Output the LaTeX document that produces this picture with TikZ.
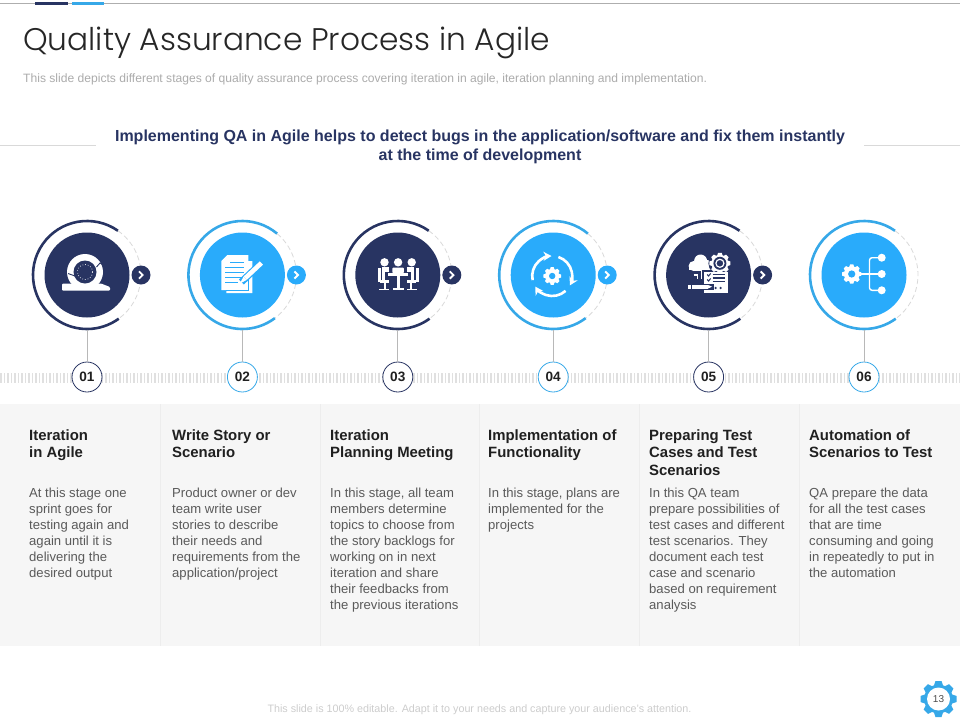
\documentclass[tikz,border=0pt]{standalone}
\usepackage{fontspec}
\setmainfont{Liberation Sans}
\newfontfamily\titlefont{Poppins Light}
\usepackage{xcolor}
\usetikzlibrary{arrows,arrows.meta,shapes,positioning}
\definecolor{qanavy}{RGB}{40,52,98}
\definecolor{qablue}{RGB}{41,171,251}
\definecolor{qaring}{RGB}{54,168,232}
\definecolor{qapanel}{RGB}{246,246,246}
\definecolor{qarule}{RGB}{217,217,217}
\definecolor{qatick}{RGB}{224,224,224}
\definecolor{qahead}{RGB}{32,32,32}
\definecolor{qabody}{RGB}{90,90,90}
\tikzstyle{corenavy} = [circle, minimum size=85pt, inner sep=0pt, outer sep=12pt, fill=qanavy]
\tikzstyle{coreblue} = [circle, minimum size=85pt, inner sep=0pt, outer sep=12pt, fill=qablue]
\tikzstyle{nextnavy} = [circle, minimum size=19pt, inner sep=0pt, fill=qanavy]
\tikzstyle{nextblue} = [circle, minimum size=19pt, inner sep=0pt, fill=qablue]
\tikzstyle{numnavy} = [circle, minimum size=30pt, inner sep=0pt, draw=qanavy, line width=0.8pt, fill=white, text=qahead, font=\fontsize{13.6}{16}\selectfont\bfseries]
\tikzstyle{numblue} = [numnavy, draw=qaring]
\tikzstyle{stem} = [line width=0.7pt, color=qarule!85!black]
\tikzstyle{chevronmark} = [white, line width=1.9pt]
\tikzstyle{headtext} = [anchor=north west, inner sep=0pt, align=left, text=qahead, font=\fontsize{14.9}{17.6}\selectfont\bfseries]
\tikzstyle{bodytext} = [anchor=north west, inner sep=0pt, align=left, text=qabody, font=\fontsize{13.1}{16}\selectfont]
\tikzstyle{panelrule} = [line width=0.8pt, color=black!7]
\tikzstyle{cyclearrow} = [white, line width=2.6pt, -{Stealth[length=8pt, width=9pt]}]
% ring round a stage: solid part, then the dashed part
\newcommand{\stagering}[4]{
  \draw[#2, line width=2.6pt] (#1.center) ++(#3:54pt) arc[start angle=#3, end angle=#4+360, radius=54pt];
  \draw[qarule, line width=0.8pt, dash pattern=on 5pt off 3pt] (#1.center) ++(#3:54pt) arc[start angle=#3, end angle=#4, radius=54pt];
}
\newcommand{\nextchevron}[1]{
  \draw[chevronmark] (#1.center) ++(-2,-3.6) -- ++(3.6,3.6) -- ++(-3.6,3.6);
}
% gear: at, outer radius, hole radius, colour, hole colour
\newcommand{\gearmark}[5]{
  \begin{scope}[shift={(#1)}]
    \fill[#4] (0,0) circle (#2*0.8pt);
    \foreach \a in {0,45,...,315}
      \fill[#4, rotate=\a] (-#2*0.27,-#2*0.7) -- (-#2*0.17,-#2) -- (#2*0.17,-#2) -- (#2*0.27,-#2*0.7) -- cycle;
    \fill[#5] (0,0) circle (#3 pt);
  \end{scope}
}
\begin{document}
\begin{tikzpicture}[x=1pt, y=-1pt, node distance=155.4pt]
\useasboundingbox (0,0) rectangle (960,720);
% header
\draw[qarule!80!black, line width=0.8pt] (0,3.5) -- (960,3.5);
\fill[qanavy] (35,2) rectangle (68,5);
\fill[qaring] (72,2) rectangle (104,5);
\node (title) [anchor=base west, inner sep=0pt, text=black!85, font=\fontsize{31.25}{36}\titlefont] at (23,50) {Quality Assurance Process in Agile};
\node (subtitle) [anchor=base west, inner sep=0pt, text=black!33, font=\fontsize{12.1}{14}\selectfont] at (23,82) {This slide depicts different stages of quality assurance process covering iteration in agile, iteration planning  and implementation.};
\node (banner) [inner sep=0pt, align=center, text=qanavy, font=\fontsize{16}{19.2}\selectfont\bfseries] at (480,147) {Implementing QA in Agile helps to detect bugs in the application/software and fix them instantly\\at the time of development};
\coordinate (ruleleft) at (0,145);
\coordinate (ruleleftend) at (96,145);
\coordinate (ruleright) at (864,145);
\coordinate (rulerightend) at (960,145);
\draw[qarule, line width=0.8pt] (ruleleft) -- (ruleleftend);
\draw[qarule, line width=0.8pt] (ruleright) -- (rulerightend);

% panel below the time line
\fill[qapanel] (0,404) rectangle (960,646);
\draw[panelrule] (160,404) -- (160,646);
\draw[panelrule] (320.5,404) -- (320.5,646);
\draw[panelrule] (479.5,404) -- (479.5,646);
\draw[panelrule] (639.5,404) -- (639.5,646);
\draw[panelrule] (799.5,404) -- (799.5,646);

% time line ticks
\foreach \i in {0,...,274}
  \draw[qatick, line width=1.1pt] (\i*3.5+1,373) -- (\i*3.5+1,383);

% stages
\node (core1) [corenavy] at (87,275) {};
\node (core2) [coreblue, right of=core1] {};
\node (core3) [corenavy, right of=core2] {};
\node (core4) [coreblue, right of=core3] {};
\node (core5) [corenavy, right of=core4] {};
\node (core6) [coreblue, right of=core5] {};

\stagering{core1}{qanavy}{55}{-54}
\stagering{core2}{qaring}{50}{-53}
\stagering{core3}{qanavy}{55}{-54}
\stagering{core4}{qaring}{50}{-53}
\stagering{core5}{qanavy}{55}{-54}
\stagering{core6}{qaring}{55}{-54}

\node (next1) [nextnavy, right of=core1, node distance=54pt] {};
\node (next2) [nextblue, right of=core2, node distance=54pt] {};
\node (next3) [nextnavy, right of=core3, node distance=54pt] {};
\node (next4) [nextblue, right of=core4, node distance=54pt] {};
\node (next5) [nextnavy, right of=core5, node distance=54pt] {};
\nextchevron{next1}
\nextchevron{next2}
\nextchevron{next3}
\nextchevron{next4}
\nextchevron{next5}

\node (num1) [numnavy, below of=core1, node distance=102pt] {01};
\node (num2) [numblue, below of=core2, node distance=102pt] {02};
\node (num3) [numnavy, below of=core3, node distance=102pt] {03};
\node (num4) [numblue, below of=core4, node distance=102pt] {04};
\node (num5) [numnavy, below of=core5, node distance=102pt] {05};
\node (num6) [numblue, below of=core6, node distance=102pt] {06};

\draw[stem] (core1) -- (num1);
\draw[stem] (core2) -- (num2);
\draw[stem] (core3) -- (num3);
\draw[stem] (core4) -- (num4);
\draw[stem] (core5) -- (num5);
\draw[stem] (core6) -- (num6);

% icon 1: rolled road
\begin{scope}[shift={(core1.center)}]
  \fill[white] (-2,-3) circle (18pt);
  \fill[white, rounded corners=1pt] (-25,8.5) -- (14,8.5) -- (23,12) -- (23,15.7) -- (-25,15.7) -- cycle;
  \fill[qanavy] (-2,-3) circle (11.5pt);
  \draw[white, line width=0.7pt, dotted] (-2,-3) circle (7.5pt);
  \draw[qanavy, line width=0.9pt] (-19,-1.5) -- (-12,1) -- (-7,-7);
  \draw[qanavy, line width=0.9pt] (9.5,-8) -- (13,-12) -- (18,-9);
\end{scope}

% icon 2: papers and pen
\begin{scope}[shift={(core2.center)}]
  \fill[white] (-21,-14) -- (-15,-20) -- (6,-20) -- (6,-14) -- (10,-14) -- (10,18) -- (-16,18) -- (-16,15) -- (-21,15) -- cycle;
  \draw[qablue, line width=0.7pt] (-16,15) -- (6,15) -- (6,-4);
  \draw[qablue, line width=1pt] (-12,-13) -- (2,-13) (-17,-8) -- (2,-8) (-17,-3) -- (2,-3) (-17,2) -- (0,2) (-17,7) -- (-4,7);
  \draw[qablue, line width=7pt] (19,-12) -- (-1,7);
  \draw[white, line width=4.6pt] (19,-12) -- (3,3);
  \fill[white] (4.6,4.8) -- (1.2,1.4) -- (-2.5,8.5) -- cycle;
\end{scope}

% icon 3: meeting at a table
\begin{scope}[shift={(core3.center)}]
  \fill[white] (-13.3,-12.7) circle (4.2pt);
  \fill[white] (0.3,-12.7) circle (4.2pt);
  \fill[white] (13.9,-12.7) circle (4.2pt);
  \fill[white, rounded corners=1pt] (-5.5,-7.5) rectangle (6,-1.7);
  \fill[white] (-9.7,-1.7) rectangle (10.3,1);
  \fill[white] (-1.2,1) rectangle (1.8,14);
  \fill[white] (-5,13.3) rectangle (6,15);
  \fill[white] (-19.7,-7) rectangle (-17.3,7);
  \fill[white] (-16,-8) rectangle (-9,-2.8);
  \fill[white] (-16,-2.8) rectangle (-12.5,5);
  \fill[white] (-17.5,5) rectangle (-8.7,8);
  \fill[white] (-14,8) rectangle (-12,13.5);
  \fill[white] (-18.7,13.5) rectangle (-8.7,15);
  \fill[white] (18.3,-7) rectangle (20.7,7);
  \fill[white] (9.6,-8) rectangle (16.6,-2.8);
  \fill[white] (13.1,-2.8) rectangle (16.6,5);
  \fill[white] (9.3,5) rectangle (18.1,8);
  \fill[white] (12.6,8) rectangle (14.6,13.5);
  \fill[white] (9.3,13.5) rectangle (19.3,15);
\end{scope}

% icon 4: gear in a cycle
\begin{scope}[shift={(core4.center)}]
  \gearmark{-1,1}{8.8}{3.2}{white}{qablue}
  \draw[cyclearrow] (-1,1) ++(192:20pt) arc[start angle=192, end angle=92, radius=20pt];
  \draw[cyclearrow] (-1,1) ++(72:20pt) arc[start angle=72, end angle=-28, radius=20pt];
  \draw[cyclearrow] (-1,1) ++(-48:20pt) arc[start angle=-48, end angle=-148, radius=20pt];
\end{scope}

% icon 5: cloud, gear, checklist, pencil
\begin{scope}[shift={(core5.center)}]
  \fill[white] (-15,-9) circle (5pt);
  \fill[white] (-8,-14) circle (6.5pt);
  \fill[white] (-1,-10) circle (5pt);
  \fill[white] (-20,-9) rectangle (4,-5);
  \fill[qanavy] (11.3,-11.7) circle (11.5pt);
  \gearmark{11.3,-11.7}{10.5}{6.5}{white}{qanavy}
  \draw[white, line width=1.2pt] (11.3,-11.7) circle (4pt);
  \fill[white] (-4.5,-3) rectangle (19,18);
  \draw[qanavy, line width=1pt] (-1.5,-0.5) -- (0,1) -- (2,-1.5) (-1.5,4.5) -- (0,6) -- (2,3.5);
  \draw[qanavy, line width=1.1pt] (4,-0.5) -- (16,-0.5) (4,3) -- (16,3) (4,6.5) -- (16,6.5);
  \fill[qanavy] (7,13) circle (1.3pt) (12,13) circle (1.3pt);
  \draw[white, line width=1.2pt] (-16,-5) -- (-7.5,-5) -- (-7.5,4);
  \draw[white, line width=1.2pt] (-15,0) -- (-11.5,0) -- (-11.5,4);
  \fill[qanavy] (-22,9) rectangle (5,14.5);
  \fill[white] (-21,10) rectangle (-0.5,13.5);
  \fill[white] (-0.5,10) -- (3.5,11.7) -- (-0.5,13.5) -- cycle;
  \draw[qanavy, line width=0.6pt] (-17,10) -- (-17,13.5);
\end{scope}

% icon 6: gear with branches
\begin{scope}[shift={(core6.center)}]
  \gearmark{-12.3,-1}{9.6}{3.6}{white}{qablue}
  \fill[white] (17.7,-17.3) circle (4pt);
  \fill[white] (17.7,-1) circle (4pt);
  \fill[white] (17.7,15.3) circle (4pt);
  \draw[white, line width=1.4pt, rounded corners=2.5pt] (17.7,-17.3) -- (5.5,-17.3) -- (5.5,15.3) -- (17.7,15.3);
  \draw[white, line width=1.4pt] (-3,-1) -- (17.7,-1);
\end{scope}

% stage texts
\node (head1) [headtext] at (29,429) {Iteration\\in Agile};
\node (head2) [headtext] at (172,429) {Write Story or\\Scenario};
\node (head3) [headtext] at (330,429) {Iteration\\Planning Meeting};
\node (head4) [headtext] at (488,429) {Implementation of\\Functionality};
\node (head5) [headtext] at (649,429) {Preparing Test\\Cases and Test\\Scenarios};
\node (head6) [headtext] at (809,429) {Automation of\\Scenarios to Test};

\node (body1) [bodytext] at (29,488) {At this stage one\\sprint goes for\\testing again and\\again until it is\\delivering  the\\desired output};
\node (body2) [bodytext] at (172,488) {Product owner or dev\\team write user\\stories to describe\\their needs and\\requirements from the\\application/project};
\node (body3) [bodytext] at (330,488) {In this stage, all team\\members determine\\topics to choose from\\the story backlogs for\\working on in next\\iteration and share\\their feedbacks from\\the previous  iterations};
\node (body4) [bodytext] at (488,488) {In this stage, plans are\\implemented for the\\projects};
\node (body5) [bodytext] at (649,488) {In this QA team\\prepare possibilities of\\test cases and different\\test scenarios. They\\document each test\\case and scenario\\based on requirement\\analysis};
\node (body6) [bodytext] at (809,488) {QA prepare the data\\for all the test cases\\that are time\\consuming and  going\\in repeatedly to put in\\the automation};

% footer
\node (footer) [inner sep=0pt, text=black!20, font=\fontsize{10.75}{12}\selectfont] at (479.5,710) {This slide is 100\% editable.  Adapt it to your needs and capture your audience’s attention.};
\gearmark{938.5,699}{18}{11.5}{qaring}{white}
\node (pagenum) [inner sep=0pt, text=black!70, font=\fontsize{10}{12}\selectfont] at (938.5,699) {13};
\end{tikzpicture}
\end{document}
